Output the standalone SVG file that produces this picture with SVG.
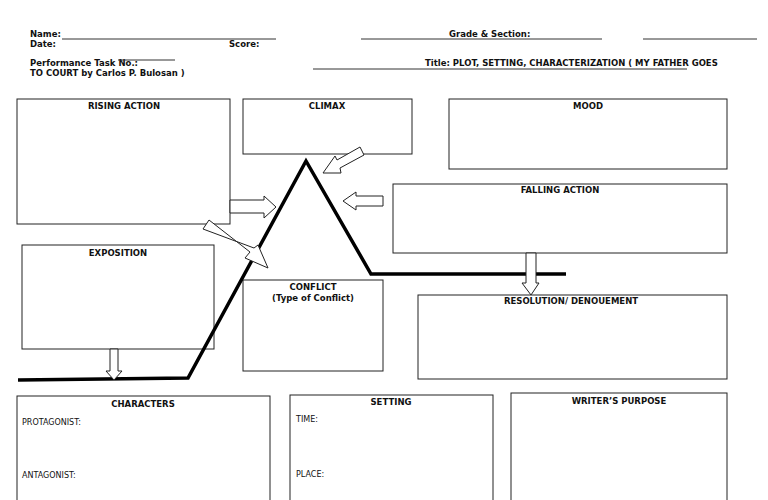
<svg xmlns="http://www.w3.org/2000/svg" width="768" height="500" viewBox="0 0 768 500">
<style>
text{font-family:"DejaVu Sans",sans-serif;font-size:8.5px;fill:#111}
.b{font-weight:bold}
.c{font-weight:bold;text-anchor:middle}
.s{font-size:8px}
.box{fill:#fff;stroke:#222;stroke-width:1}
.ar{fill:#fff;stroke:#222;stroke-width:1}
.ul{stroke:#333;stroke-width:1}
</style>
<rect width="768" height="500" fill="#fff"/>
<g id="header">
<text x="30" y="37" class="b">Name:</text>
<line class="ul" x1="62" y1="39" x2="276" y2="39"/>
<text x="30" y="47" class="b">Date:</text>
<text x="229" y="47" class="b">Score:</text>
<line class="ul" x1="361" y1="39" x2="602" y2="39"/>
<text x="449" y="37" class="b">Grade &amp; Section:</text>
<line class="ul" x1="643" y1="39" x2="757" y2="39"/>
<text x="30" y="66" class="b">Performance Task No.:</text>
<line class="ul" x1="118" y1="60" x2="175" y2="60"/>
<text x="30" y="76" class="b">TO COURT by Carlos P. Bulosan )</text>
<line class="ul" x1="313" y1="69" x2="687" y2="69"/>
<text x="425" y="66" class="b">Title: PLOT, SETTING, CHARACTERIZATION ( MY FATHER GOES</text>
</g>
<g id="rising"><rect class="box" x="17" y="99" width="213" height="125"/><text x="124" y="109" class="c">RISING ACTION</text></g>
<g id="climax"><rect class="box" x="243" y="99" width="169" height="55"/><text x="327" y="109" class="c">CLIMAX</text></g>
<g id="mood"><rect class="box" x="449" y="99" width="278" height="70"/><text x="588" y="109" class="c">MOOD</text></g>
<g id="falling"><rect class="box" x="393" y="184" width="334" height="69"/><text x="560" y="193" class="c">FALLING ACTION</text></g>
<g id="exposition"><rect class="box" x="22" y="245" width="192" height="104"/><text x="118" y="256" class="c">EXPOSITION</text></g>
<g id="conflict"><rect class="box" x="243" y="280" width="140" height="91"/><text x="313" y="290" class="c">CONFLICT</text><text x="313" y="301" class="c">(Type of Conflict)</text></g>
<g id="resolution"><rect class="box" x="418" y="295" width="309" height="84"/><text x="571" y="304" class="c">RESOLUTION/ DENOUEMENT</text></g>
<g id="characters"><rect class="box" x="17" y="396" width="253" height="110"/><text x="143" y="407" class="c">CHARACTERS</text><text x="22" y="425" class="s">PROTAGONIST:</text><text x="22" y="478" class="s">ANTAGONIST:</text></g>
<g id="setting"><rect class="box" x="290" y="395" width="203" height="110"/><text x="391" y="405" class="c">SETTING</text><text x="296" y="422" class="s">TIME:</text><text x="296" y="477" class="s">PLACE:</text></g>
<g id="purpose"><rect class="box" x="511" y="393" width="216" height="112"/><text x="619" y="404" class="c">WRITER’S PURPOSE</text></g>
<g id="connectors">
<polyline points="18,380 188,378 306,161 371,274 566,274" fill="none" stroke="#000" stroke-width="3.5"/>
<polygon class="ar" points="230,200 264,200 264,196 276,207 264,218 264,213 230,213"/>
<polygon class="ar" points="383,196 356,196 356,192 343,201 356,210 356,206 383,206"/>
<polygon class="ar" points="360,147 337,160 335,156 323,173 341,173 340,168 364,155"/>
<polygon class="ar" points="209,220 250,252 245,258 268,268 258,245 254,248 203,229"/>
<polygon class="ar" points="526,253 526,283 522,283 531,295 539,283 536,283 536,253"/>
<polygon class="ar" points="110,349 110,371 106,371 114,380 122,371 118,371 118,349"/>
</g>
</svg>
